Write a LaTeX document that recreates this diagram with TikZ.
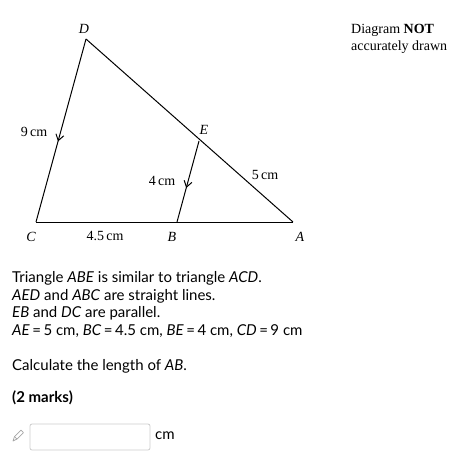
\documentclass[tikz,border=0pt]{standalone}
\usepackage{fontspec}
\setmainfont{Liberation Serif}
\newfontfamily\qfont{Lato}
\usetikzlibrary{arrows.meta}
\usetikzlibrary{decorations.markings}
\tikzset{
  side/.style={black, line width=1pt},
  parmark/.style={side, postaction={decorate, decoration={markings,
      mark=at position #1 with {\arrow{Straight Barb[length=6pt, width=8pt]}}}}},
  vlabel/.style={font=\fontsize{14}{14}\selectfont\itshape},
  dlabel/.style={font=\fontsize{14}{14}\selectfont},
  qtext/.style={font=\qfont\fontsize{15}{17.5}\selectfont, anchor=west, inner sep=0pt}
}
\begin{document}
\begin{tikzpicture}[x=1pt, y=-1pt]
        \useasboundingbox (0,0) rectangle (474,451);
        % triangle
        \coordinate (D) at (86,39);
        \coordinate (C) at (36,222);
        \coordinate (B) at (177,222);
        \coordinate (A) at (293,222);
        \coordinate (E) at (199,141);
        \draw[side] (D) -- (A);
        \draw[side] (C) -- (A);
        \draw[parmark=0.56] (D) -- (C);
        \draw[parmark=0.58] (E) -- (B);
        % vertex labels
        \node[vlabel] (Dl) at (84,29) {D};
        \node[vlabel] (El) at (204,130) {E};
        \node[vlabel] (Cl) at (31,237) {C};
        \node[vlabel] (Bl) at (172,237) {B};
        \node[vlabel] (Al) at (300,237) {A};
        % lengths
        \node[dlabel] (cd) at (34,132) {9\,cm};
        \node[dlabel] (be) at (162,181) {4\,cm};
        \node[dlabel] (ae) at (265,175) {5\,cm};
        \node[dlabel] (bc) at (105,236) {4.5\,cm};
        \node[dlabel, anchor=west, inner sep=0pt] (note1) at (351,30) {Diagram \textbf{NOT}};
        \node[dlabel, anchor=west, inner sep=0pt] (note2) at (351,47) {accurately drawn};
        % question text
        \node[qtext] (l1) at (12,278) {Triangle \textit{ABE} is similar to triangle \textit{ACD}.};
        \node[qtext] (l2) at (12,296) {\textit{AED} and \textit{ABC} are straight lines.};
        \node[qtext] (l3) at (12,313) {\textit{EB} and \textit{DC} are parallel.};
        \node[qtext] (l4) at (12,331) {\textit{AE}\,=\,5 cm, \textit{BC}\,=\,4.5 cm, \textit{BE}\,=\,4 cm, \textit{CD}\,=\,9 cm};
        \node[qtext] (l5) at (12,366) {Calculate the length of \textit{AB}.};
        \node[qtext, font=\qfont\bfseries\fontsize{15}{17.5}\selectfont] (l6) at (12,398) {(2 marks)};
        % answer box
        \draw[gray!40, line width=0.8pt, rounded corners=2pt] (30,424) rectangle (150,450);
        \node[qtext] (unit) at (155,436) {cm};
        % pencil
        \draw[gray!70, line width=0.7pt, line join=round]
            (13,441) -- (14.5,436.5) -- (21,430) -- (23.5,432.5) -- (17,439) -- cycle;
        \draw[gray!70, line width=0.7pt] (14.5,436.5) -- (17,439);
\end{tikzpicture}
\end{document}
